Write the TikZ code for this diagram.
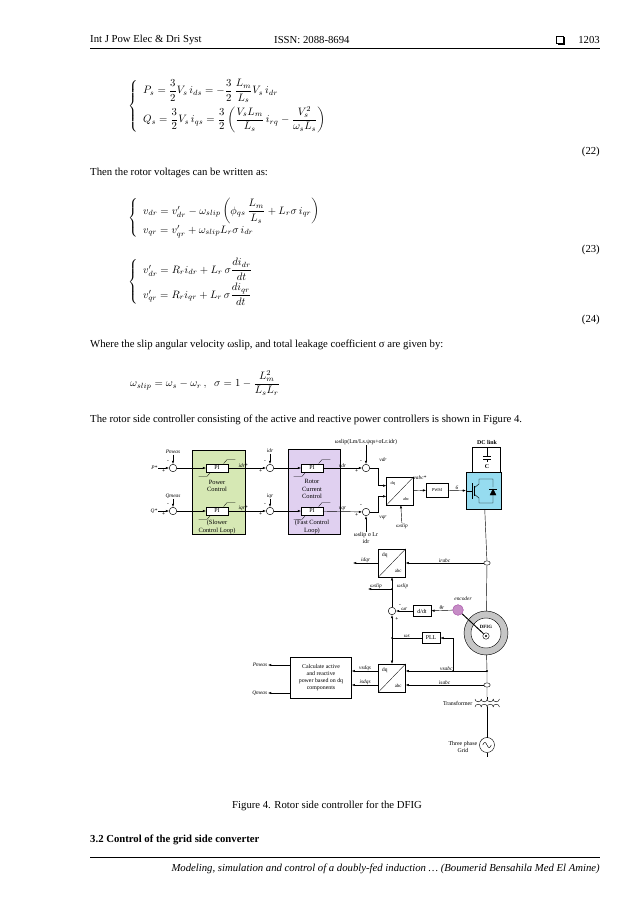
\documentclass[tikz,border=0pt]{standalone}
\usepackage{fontspec}
\setmainfont{Liberation Serif}
\usepackage{amsmath}
\usetikzlibrary{arrows.meta,calc,shapes.geometric}
\definecolor{pgreen}{RGB}{214,232,180}
\definecolor{ppurp}{RGB}{224,208,240}
\definecolor{pblue}{RGB}{150,220,240}
\begin{document}
\begin{tikzpicture}[x=0.933pt,y=-0.933pt,
  txt/.style={anchor=west,inner sep=0,font=\fontsize{10}{12}\selectfont},
  lab/.style={inner sep=0.5pt,font=\fontsize{5}{6}\selectfont\itshape},
  labr/.style={inner sep=0.5pt,font=\fontsize{5}{6}\selectfont},
  sumc/.style={circle,draw,minimum size=7pt,inner sep=0},
  blk/.style={draw,fill=white,inner sep=1pt,font=\fontsize{5.5}{6.5}\selectfont},
  arr/.style={-{Latex[length=3pt,width=2.2pt]}},
  dqb/.style={draw,fill=white,minimum width=25pt,minimum height=26pt,inner sep=0}]
\useasboundingbox (0,0) rectangle (638,902);
\fill[white] (0,0) rectangle (638,902);
% header
\node[txt] (h1) at (90,40) {Int J Pow Elec \& Dri Syst};
\node[txt] (h2) at (274,40) {ISSN: 2088-8694};
\node[txt,anchor=east] (h3) at (600,40) {1203};
\draw[line width=0.4pt] (556,36) rectangle (563,43);
\draw[line width=1pt] (558,44) -- (564,44) -- (564,37);
\draw[line width=0.6pt] (90,48) -- (600,48);
% eq 22
\node[txt] (e22) at (128,106) {$\left\{\begin{array}{l}
 P_s=\dfrac32 V_s\, i_{ds}=-\dfrac32\,\dfrac{L_m}{L_s}V_s\, i_{dr}\\[8pt]
 Q_s=\dfrac32 V_s\, i_{qs}=\dfrac32\left(\dfrac{V_s L_m}{L_s}\,i_{rq}-\dfrac{V_s^2}{\omega_s L_s}\right)
 \end{array}\right.$};
\node[txt,anchor=east] (n22) at (600,152) {(22)};
\node[txt] (p1) at (90,173) {Then the rotor voltages can be written as:};
% eq 23
\node[txt] (e23) at (128,218) {$\left\{\begin{array}{l}
 v_{dr}=v'_{dr}-\omega_{slip}\left(\phi_{qs}\,\dfrac{L_m}{L_s}+L_r\sigma\, i_{qr}\right)\\[6pt]
 v_{qr}=v'_{qr}+\omega_{slip}L_r\sigma\, i_{dr}
 \end{array}\right.$};
\node[txt,anchor=east] (n23) at (600,250) {(23)};
\node[txt] (e24) at (128,282) {$\left\{\begin{array}{l}
 v'_{dr}=R_r i_{dr}+L_r\,\sigma\dfrac{di_{dr}}{dt}\\[6pt]
 v'_{qr}=R_r i_{qr}+L_r\,\sigma\dfrac{di_{qr}}{dt}
 \end{array}\right.$};
\node[txt,anchor=east] (n24) at (600,320) {(24)};
\node[txt] (p2) at (90,345) {Where the slip angular velocity ωslip, and total leakage coefficient σ are given by:};
\node[txt] (e25) at (130,383) {$\omega_{slip}=\omega_s-\omega_r\,,\;\;\sigma=1-\dfrac{L_m^2}{L_s L_r}$};
\node[txt] (p3) at (90,420) {The rotor side controller consisting of the active and reactive power controllers is shown in Figure 4.};

% ================= diagram =================
\draw[fill=pgreen,line width=0.8pt] (192,450) rectangle (245,534);
\draw[fill=ppurp,line width=0.8pt] (288,449) rectangle (340,534);
% sums and PI
\node[sumc] (s1) at (173,468) {};
\node[sumc] (s2) at (173,511) {};
\node[sumc] (s3) at (270,468) {};
\node[sumc] (s4) at (270,511) {};
\node[sumc] (s5) at (366,468) {};
\node[sumc] (s6) at (366,512) {};
\node[blk,minimum width=20pt,minimum height=8pt] (pi1) at (217,468) {PI};
\node[blk,minimum width=20pt,minimum height=8pt] (pi2) at (217,511) {PI};
\node[blk,minimum width=20pt,minimum height=8pt] (pi3) at (312,468) {PI};
\node[blk,minimum width=20pt,minimum height=8pt] (pi4) at (312,511) {PI};
\foreach \p in {pi1,pi2,pi3,pi4}{
  \draw[line width=0.3pt] ([xshift=-4pt]\p.north east) -- ++(3pt,3.5pt) -- ++(8pt,0);
  \draw[line width=0.3pt] ([xshift=4pt]\p.south west) -- ++(-3pt,-3.5pt) -- ++(-8pt,0);}
\node[labr,align=center,font=\fontsize{6}{7}\selectfont] (t1) at (217,486) {Power\\Control};
\node[labr,align=center,font=\fontsize{6}{7}\selectfont] (t2) at (217,527) {(Slower\\Control Loop)};
\node[labr,align=center,font=\fontsize{6}{7}\selectfont] (t3) at (312,489) {Rotor\\Current\\Control};
\node[labr,align=center,font=\fontsize{6}{7}\selectfont] (t4) at (312,527) {(Fast Control\\Loop)};
% inputs
\node[lab,anchor=east] (ps) at (158,468) {P*};
\node[lab,anchor=east] (qs) at (158,511) {Q*};
\draw[arr] (ps) -- (s1);
\draw[arr] (qs) -- (s2);
\node[lab] (pm) at (173,452) {Pmeas};
\node[lab] (qm) at (173,496) {Qmeas};
\draw[arr] (pm) -- (s1);
\draw[arr] (qm) -- (s2);
\node[lab] (idr) at (270,451) {idr};
\node[lab] (iqr) at (270,496) {iqr};
\draw[arr] (idr) -- (s3);
\draw[arr] (iqr) -- (s4);
\draw[arr] (s1) -- (pi1);
\draw[arr] (s2) -- (pi2);
\draw[arr] (pi1) -- node[lab,above,pos=0.4]{idr*} (s3);
\draw[arr] (pi2) -- node[lab,above,pos=0.4]{iqr*} (s4);
\draw[arr] (s3) -- (pi3);
\draw[arr] (s4) -- (pi4);
\draw[arr] (pi3) -- node[lab,above,pos=0.5]{vdr} (s5);
\draw[arr] (pi4) -- node[lab,above,pos=0.5]{vqr} (s6);
\foreach \s in {s1,s2,s3,s4,s5,s6}{
  \node[labr,font=\fontsize{5}{5}\selectfont\bfseries] at ([shift={(-5pt,-3pt)}]\s.west) {+};
  \node[labr,font=\fontsize{5}{5}\selectfont\bfseries] at ([shift={(-2pt,3pt)}]\s.north west) {-};}
\node[labr,font=\fontsize{5.5}{6.5}\selectfont] (ws1) at (366,442) {ωslip(Lm/Ls.ψqs+σLr.idr)};
\draw[arr] (ws1) -- (s5);
\node[labr,align=center,font=\fontsize{5.5}{6.5}\selectfont] (ws2) at (366,538) {ωslip σ Lr\\idr};
\draw[arr] (ws2) -- (s6);
% dq block 1
\node[dqb,minimum width=25pt,minimum height=26pt] (dq1) at (400,491) {};
\draw[line width=0.3pt] (dq1.south west) -- (dq1.north east);
\node[labr,font=\fontsize{4}{4}\selectfont] at ([shift={(6pt,-6pt)}]dq1.north west) {dq};
\node[labr,font=\fontsize{4}{4}\selectfont] at ([shift={(-7pt,6pt)}]dq1.south east) {abc};
\coordinate (c1) at (378,468);
\coordinate (c2) at (378,512);
\draw[arr] (s5) -- (c1) |- ([yshift=5pt]dq1.west);
\draw[arr] (s6) -- (c2) |- ([yshift=-5pt]dq1.west);
\node[lab] at (383,460) {vdr};
\node[lab] at (383,518) {vqr};
\node[lab] (wsl) at (402,526) {ωslip};
\draw[arr] (wsl) -- (dq1);
\node[blk,minimum width=20pt,minimum height=13pt,font=\fontsize{4}{4}\selectfont] (pwm) at (437,490) {PWM};
\draw[arr] (dq1) -- (pwm);
\node[lab] at (420,478) {vabc*};
% converter
\node[draw,fill=pblue,line width=0.6pt,minimum width=33pt,minimum height=35pt] (conv) at (484,491) {};
\draw[arr] (pwm) -- node[lab,above]{6} (conv);
\draw[line width=0.8pt] (472,483) -- (472,499);
\draw (466,491) -- (472,491);
\draw (474,486) -- (474,496);
\draw (474,488) -- (479,484) -- (479,479) -- (493,479) -- (493,487);
\draw (474,494) -- (479,498) -- (479,503) -- (493,503) -- (493,495);
\draw[fill=black] (490,495) -- (496,495) -- (493,489) -- cycle;
\draw (489,489) -- (497,489);
% DC link
\draw (472,472) -- (472,447) -- (500,447) -- (500,472);
\draw (487,447) -- (487,456); \draw (487,460) -- (487,462);
\draw[line width=0.8pt] (483,456) -- (491,456); \draw[line width=0.8pt] (483,459) -- (491,459);
\node[labr,font=\fontsize{5.5}{6}\selectfont\bfseries] at (487,442) {DC link};
\node[labr,font=\fontsize{5.5}{6}\selectfont\bfseries] at (487,467) {C};
% DFIG etc
\node[circle,draw,fill=gray!45,minimum size=41pt,inner sep=0] (dfig) at (486,633) {};
\node[circle,draw,fill=white,minimum size=28pt,inner sep=0] (dfin) at (486,633) {};
\node[circle,draw,minimum size=6pt,inner sep=0] (dcen) at (486,636) {};
\node[circle,fill=black,minimum size=2pt,inner sep=0] at (486,636) {};
\node[labr,font=\fontsize{4.5}{5}\selectfont\bfseries] at (486,627) {DFIG};
\node[circle,draw=violet!70,fill=violet!45,minimum size=10pt,inner sep=0] (enc) at (458,610) {};
\draw[line width=0.9pt] (enc) -- (dcen);
\node[lab] at (463,599) {encoder};
\node[ellipse,draw,minimum width=6pt,minimum height=4pt,inner sep=0] (rs1) at (487,563) {};
\node[ellipse,draw,minimum width=6pt,minimum height=4pt,inner sep=0] (rs2) at (487,685) {};
\coordinate (jv) at (487,671);
\fill (jv) circle (1pt);
\draw (conv) -- (rs1) -- (dfig);
\draw (dfig) -- (jv) -- (rs2) -- (487,697);
% transformer
\draw (487,697) -- (487,699);
\foreach \i in {0,1,2,3}{
 \draw (475+6*\i,699) arc[start angle=180,end angle=360,x radius=3pt,y radius=2.6pt];
 \draw (475+6*\i,707) arc[start angle=180,end angle=0,x radius=3pt,y radius=2.6pt];}
\draw (487,707) -- (487,738);
\node[labr,font=\fontsize{5.5}{6}\selectfont,anchor=east] at (473,703) {Transformer};
\node[circle,draw,minimum size=14pt,inner sep=0] (src) at (487,745) {};
\draw ($(src)+(-4pt,0)$) sin ++(2pt,2.5pt) cos ++(2pt,-2.5pt) sin ++(2pt,-2.5pt) cos ++(2pt,2.5pt);
\draw (src) -- (487,757);
\node[labr,align=center,font=\fontsize{5.5}{6.5}\selectfont,anchor=east] at (478,747) {Three phase\\Grid};
% dq block 2
\node[dqb] (dq2) at (392,563) {};
\draw[line width=0.3pt] (dq2.south west) -- (dq2.north east);
\node[labr,font=\fontsize{5}{5}\selectfont] at ([shift={(6pt,-6pt)}]dq2.north west) {dq};
\node[labr,font=\fontsize{4.5}{5}\selectfont] at ([shift={(-7pt,6pt)}]dq2.south east) {abc};
\draw[arr] (rs1) -- node[lab,above]{irabc} (dq2);
\coordinate (o2) at (353,563);
\draw[arr] (dq2) -- node[lab,above]{idqr} (o2);
% slip sum
\node[sumc] (s7) at (392,611) {};
\node[blk,minimum width=17pt,minimum height=10pt] (ddt) at (422,611) {d/dt};
\draw[arr] (enc) -- node[lab,above]{θr} (ddt);
\draw[arr] (ddt) -- node[lab,above]{ωr} (s7);
\coordinate (js) at (392,589);
\fill (js) circle (0.8pt);
\draw[arr] (s7) -- (dq2);
\coordinate (o3) at (368,589);
\draw[arr] (js) -- (o3);
\node[lab,anchor=south] at (376,589) {ωslip};
\node[lab,anchor=south west] at (396,589) {ωslip};
\node[labr,font=\fontsize{5}{5}\selectfont\bfseries] at (397,619) {+};
\node[labr,font=\fontsize{5}{5}\selectfont\bfseries] at (400,606) {-};
\node[blk,minimum width=17pt,minimum height=10pt] (pll) at (431,638) {PLL};
\coordinate (jp) at (392,638);
\fill (jp) circle (0.8pt);
\draw (pll) -- node[lab,above]{ωs} (jp);
\draw[arr] (jp) -- (s7);
% dq block 3
\node[dqb] (dq3) at (392,678) {};
\draw[line width=0.3pt] (dq3.south west) -- (dq3.north east);
\node[labr,font=\fontsize{5}{5}\selectfont] at ([shift={(6pt,-6pt)}]dq3.north west) {dq};
\node[labr,font=\fontsize{4.5}{5}\selectfont] at ([shift={(-7pt,6pt)}]dq3.south east) {abc};
\draw[arr] (jp) -- (dq3);
\coordinate (jv2) at (453,671);
\fill (jv2) circle (0.8pt);
\draw[arr] (jv) -- node[lab,above]{vsabc} (dq3.east |- jv);
\draw[arr] (jv2) |- (pll);
\draw[arr] (rs2) -- node[lab,above]{isabc} (dq3.east |- rs2);
\node[blk,minimum width=57pt,minimum height=38pt,align=center,font=\fontsize{5.5}{6.5}\selectfont] (calc) at (321,678) {Calculate active\\and reactive\\power based on dq\\components};
\draw[arr] (dq3.west |- jv) -- node[lab,above]{vsdqs} (calc.east |- jv);
\draw[arr] (dq3.west |- rs2) -- node[lab,above]{isdqs} (calc.east |- rs2);
\coordinate (pm2) at (268,665);
\coordinate (qm2) at (268,693);
\draw[arr] (calc.west |- pm2) -- (pm2);
\draw[arr] (calc.west |- qm2) -- (qm2);
\node[lab,anchor=east] at (268,665) {Pmeas};
\node[lab,anchor=east] at (268,693) {Qmeas};

% caption etc
\node[txt] (cap) at (232,806) {Figure 4. Rotor side controller for the DFIG};
\node[txt,font=\fontsize{10}{12}\selectfont\bfseries] (sec) at (90,840) {3.2 Control of the grid side converter};
\draw[line width=0.6pt] (90,857) -- (600,857);
\node[txt,anchor=east,font=\fontsize{10}{12}\selectfont\itshape] (foot) at (600,869) {Modeling, simulation and control of a doubly-fed induction … (Boumerid Bensahila Med El Amine)};
\end{tikzpicture}
\end{document}
